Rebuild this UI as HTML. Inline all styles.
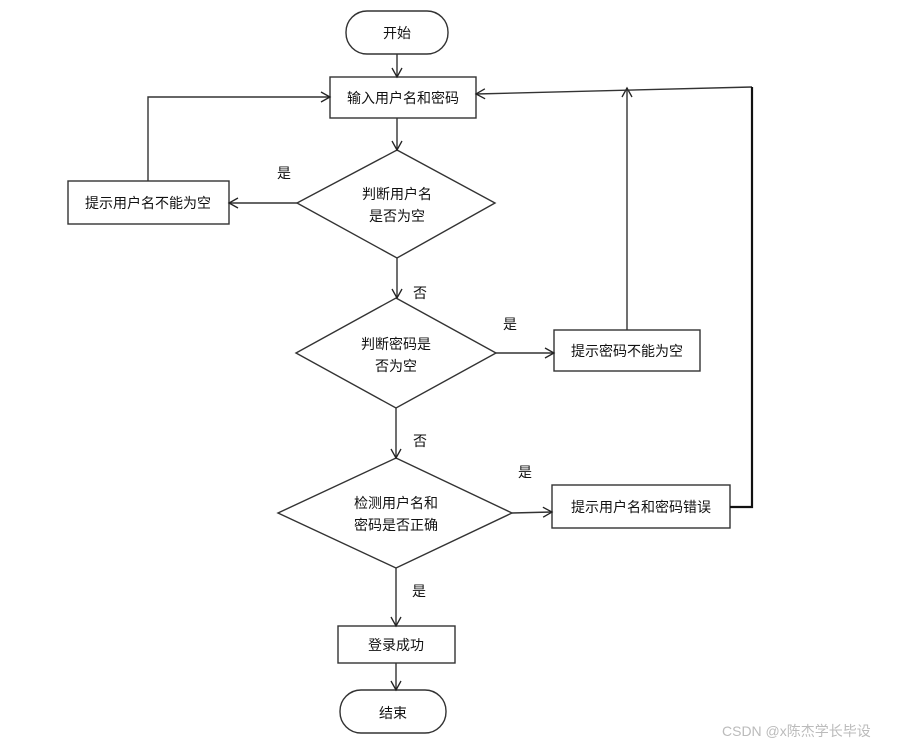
<!DOCTYPE html>
<html><head><meta charset="utf-8"><style>
body{margin:0;background:#fff;}
svg text{font-family:"Liberation Sans","Noto Sans CJK SC",sans-serif;font-size:14px;fill:#111;}
</style></head><body>
<svg width="897" height="745" viewBox="0 0 897 745" xmlns="http://www.w3.org/2000/svg">
<defs><marker id="a" markerWidth="12" markerHeight="12" refX="10" refY="6" orient="auto" markerUnits="userSpaceOnUse"><path d="M1,1 L10,6 L1,11" fill="none" stroke="#222" stroke-width="1.3"/></marker></defs>
<g fill="none" stroke="#333" stroke-width="1.4">
<rect x="346" y="11" width="102" height="43" rx="21"/>
<rect x="330" y="77" width="146" height="41"/>
<polygon points="397,150 495,203 397,258 297,203"/>
<rect x="68" y="181" width="161" height="43"/>
<polygon points="396,298 496,353 396,408 296,353"/>
<rect x="554" y="330" width="146" height="41"/>
<polygon points="396,458 512,513 396,568 278,513"/>
<rect x="552" y="485" width="178" height="43"/>
<rect x="338" y="626" width="117" height="37"/>
<rect x="340" y="690" width="106" height="43" rx="21"/>
<path d="M397,54 V77" marker-end="url(#a)"/>
<path d="M397,118 V150" marker-end="url(#a)"/>
<path d="M297,203 H229" marker-end="url(#a)"/>
<path d="M148,181 V97 H330" marker-end="url(#a)"/>
<path d="M397,258 V298" marker-end="url(#a)"/>
<path d="M496,353 L554,353" marker-end="url(#a)"/>
<path d="M627,330 V88" marker-end="url(#a)"/>
<path d="M752,87 L476,94" marker-end="url(#a)"/>
<path d="M396,408 V458" marker-end="url(#a)"/>
<path d="M512,513 L552,512" marker-end="url(#a)"/>
<path d="M396,568 V626" marker-end="url(#a)"/>
<path d="M396,663 V690" marker-end="url(#a)"/>
</g>
<path d="M730,507 H752 V87" fill="none" stroke="#111" stroke-width="2.2"/>
<g text-anchor="middle">
<text x="397" y="38">开始</text>
<text x="403" y="103">输入用户名和密码</text>
<text x="397" y="199">判断用户名</text>
<text x="397" y="221">是否为空</text>
<text x="148" y="208">提示用户名不能为空</text>
<text x="396" y="349">判断密码是</text>
<text x="396" y="371">否为空</text>
<text x="627" y="356">提示密码不能为空</text>
<text x="396" y="508">检测用户名和</text>
<text x="396" y="530">密码是否正确</text>
<text x="641" y="512">提示用户名和密码错误</text>
<text x="396" y="650">登录成功</text>
<text x="393" y="718">结束</text>
<text x="284" y="178">是</text>
<text x="420" y="298">否</text>
<text x="510" y="329">是</text>
<text x="420" y="446">否</text>
<text x="525" y="477">是</text>
<text x="419" y="596">是</text>
</g>
<text x="722" y="736" style="fill:#bbb;font-size:14px">CSDN @x陈杰学长毕设</text>
</svg>
</body></html>
